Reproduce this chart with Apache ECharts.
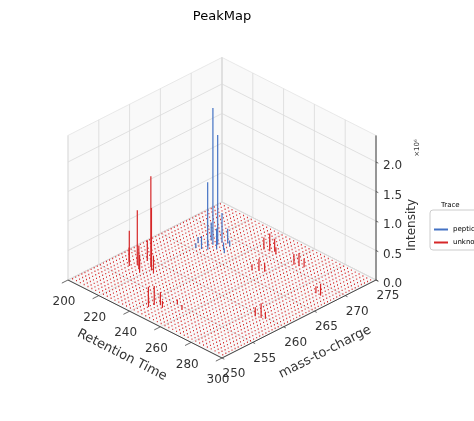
<!DOCTYPE html>
<html><head><meta charset="utf-8">
<script src="https://cdn.jsdelivr.net/npm/echarts@6/dist/echarts.min.js"></script>
<style>html,body{margin:0;padding:0;background:#fff}#c{width:474px;height:421px}</style>
</head><body><div id="c"></div>
<script>
// ---- data ----
const rtTicks = [200, 220, 240, 260, 280, 300];
const mzTicks = [250, 255, 260, 265, 270, 275];
const zTicks = [0, 0.5, 1.0, 1.5, 2.0];           // ×10^6
const rtScans = [201,203.5,206,208.5,211,213.5,216,218.5,221,223.5,226,228.5,231,233.5,236,238.5,241,243.5,246,248.5,251,253.5,256,258.5,261,263.5,266,268.5,271,273.5,276,278.5,281,283.5,286,288.5,291,293.5,296,298.5];
const mzBins = [250.5,251,251.5,252,252.5,253,253.5,254,254.5,255,255.5,256,256.5,257,257.5,258,258.5,259,259.5,260,260.5,261,261.5,262,262.5,263,263.5,264,264.5,265,265.5,266,266.5,267,267.5,268,268.5,269,269.5,270,270.5,271,271.5,272,272.5,273,273.5,274,274.5];
const noiseLevel = 0.02;
// peptide peaks [rt, mz, intensity ×10^6]
const peptidePeaks = [[224.5,267.4,2.32],[226,267.8,1.86],[223.5,266.8,1.08],[226,268.5,0.5],[228.5,267,0.35],[221,268,0.3],[228.5,268.8,0.25],[223.5,265.8,0.22],[226,266.2,0.15],[231,267.5,0.12],[218.5,266.5,0.1],[221,265.5,0.08],[231,268.5,0.1],[233.5,267,0.08]];
// unknown peaks
const unknownPeaks = [[218.6,258.8,1.54],[213,258,0.93],[221,258.3,1.06],[211,257.2,0.6],[216,257.5,0.4],[218.5,257,0.3],[213.5,259.5,0.35],[208.5,257.8,0.25],[223.5,258,0.3],
 [244,253,0.32],[241,252.8,0.28],[246,253.5,0.22],[243.5,252.2,0.18],[248.5,253.2,0.12],[251,255,0.08],[256,254.5,0.08],
 [247,271,0.3],[244,270.8,0.2],[249,271.3,0.22],[251,271,0.12],[266,271,0.22],[263.5,270.8,0.18],[268.5,271.2,0.15],[256,267,0.2],[258.5,267.3,0.15],[253.5,266.5,0.1],
 [292,268,0.2],[289,268,0.12],[287,259.6,0.25],[284,259.4,0.15],[289,259.8,0.12]];

// ---- projection ----
const O = [68, 280], EA = [154, 78], EB = [154, -78], ZSCALE = 59, ZTOP = 2.45;
function P(rt, mz, z) {
  const a = (rt - 200) / 100, b = (mz - 250) / 25;
  return [O[0] + EA[0]*a + EB[0]*b, O[1] + EA[1]*a + EB[1]*b - ZSCALE*z];
}
const noiseData = [];
rtScans.forEach(r => mzBins.forEach(m => noiseData.push([r, m, noiseLevel])));
const gridColor = '#d9d9d9', axisColor = '#444', red = '#d62728', blue = '#4472c4';

function seg(api, p1, p2, color, w) {
  const a = api.coord(p1), b = api.coord(p2);
  return {type:'line', shape:{x1:a[0],y1:a[1],x2:b[0],y2:b[1]}, style:{stroke:color, lineWidth:w}, silent:true};
}
function boxRender(params, api) {
  if (params.dataIndex > 0) return null;
  const ch = [];
  const wall = [P(200,250,0),P(200,275,0),P(200,275,ZTOP),P(200,250,ZTOP)].map(p=>api.coord(p));
  const wall2 = [P(200,275,0),P(300,275,0),P(300,275,ZTOP),P(200,275,ZTOP)].map(p=>api.coord(p));
  const floor = [P(200,250,0),P(300,250,0),P(300,275,0),P(200,275,0)].map(p=>api.coord(p));
  [wall, wall2, floor].forEach(pts => ch.push({type:'polygon', shape:{points:pts}, style:{fill:'rgba(245,245,245,0.6)', stroke:'#e3e3e3', lineWidth:0.8}, silent:true}));
  rtTicks.forEach(t => { ch.push(seg(api,P(t,250,0),P(t,275,0),gridColor,0.8)); ch.push(seg(api,P(t,275,0),P(t,275,ZTOP),gridColor,0.8)); });
  mzTicks.forEach(t => { ch.push(seg(api,P(200,t,0),P(300,t,0),gridColor,0.8)); ch.push(seg(api,P(200,t,0),P(200,t,ZTOP),gridColor,0.8)); });
  zTicks.forEach(t => { ch.push(seg(api,P(200,250,t),P(200,275,t),gridColor,0.8)); ch.push(seg(api,P(200,275,t),P(300,275,t),gridColor,0.8)); });
  ch.push(seg(api,P(200,250,0),P(300,250,0),axisColor,1));
  ch.push(seg(api,P(300,250,0),P(300,275,0),axisColor,1));
  ch.push(seg(api,P(300,275,0),P(300,275,ZTOP),axisColor,1));
  const lab = (p, txt, dx, dy, align) => { const q = api.coord(p); return {type:'text', x:q[0]+dx, y:q[1]+dy, style:{text:txt, fill:'#333', font:'12px "DejaVu Sans"', align:align||'center', verticalAlign:'middle'}, silent:true}; };
  rtTicks.forEach(t => { ch.push(seg(api,P(t,250,0),P(t,249,0),axisColor,0.8)); ch.push(lab(P(t,250,0),String(t),-4,22,'center')); });
  mzTicks.forEach(t => { ch.push(seg(api,P(300,t,0),P(301.5,t,0),axisColor,0.8)); ch.push(lab(P(300,t,0),String(t),12,16,'center')); });
  zTicks.forEach(t => { ch.push(seg(api,P(300,275,t),P(301.5,275,t),axisColor,0.8)); ch.push(lab(P(300,275,t),t.toFixed(1),7,4,'left')); });
  return {type:'group', children:ch};
}
function stemRender(color, w) {
  return function(params, api) {
    return seg(api, P(api.value(0), api.value(1), 0), P(api.value(0), api.value(1), api.value(2)), color, w);
  };
}
const chart = echarts.init(document.getElementById('c'));
chart.setOption({
  animation: false,
  title: {text:'PeakMap', left:217, top:5, textAlign:'center', textStyle:{fontFamily:'DejaVu Sans', fontWeight:'normal', fontSize:13, color:'#000'}},
  grid: {left:0, right:0, top:0, bottom:0},
  xAxis: {type:'value', min:0, max:474, show:false},
  yAxis: {type:'value', min:0, max:421, inverse:true, show:false},
  legend: {left:430, top:210, orient:'vertical', itemWidth:14, itemHeight:2, itemGap:6, icon:'rect',
    backgroundColor:'#fff', borderColor:'#ccc', borderWidth:1, padding:[16,4,4,4], borderRadius:3,
    textStyle:{fontSize:7, fontFamily:'DejaVu Sans', color:'#000'}, data:['peptide','unknown']},
  graphic: [
    {type:'text', left:441, top:202, style:{text:'Trace', font:'7px "DejaVu Sans"', fill:'#000'}},
    {type:'text', x:412, y:225, rotation:Math.PI/2, style:{text:'Intensity', font:'12px "DejaVu Sans"', fill:'#333', align:'center', verticalAlign:'middle'}},
    {type:'text', x:417, y:148, rotation:Math.PI/2, style:{text:'×10⁶', font:'7px "DejaVu Sans"', fill:'#333', align:'center', verticalAlign:'middle'}},
    {type:'text', x:122, y:355, rotation:-0.47, style:{text:'Retention Time', font:'13px "DejaVu Sans"', fill:'#333', align:'center', verticalAlign:'middle'}},
    {type:'text', x:325, y:352, rotation:0.47, style:{text:'mass-to-charge', font:'13px "DejaVu Sans"', fill:'#333', align:'center', verticalAlign:'middle'}}
  ],
  series: [
    {type:'custom', name:'box', data:[[0,0]], renderItem: boxRender, silent:true, z:1},
    {type:'custom', name:'unknown', color:red, data: noiseData, renderItem: function(p, api){ const q=api.coord(P(api.value(0),api.value(1),0)); return {type:'rect', shape:{x:q[0]-0.5,y:q[1]-1.2,width:1,height:1.4}, style:{fill:red}, silent:true}; }, silent:true, z:2},
    {type:'custom', name:'unknown', color:red, data: unknownPeaks, renderItem: stemRender(red,1.2), silent:true, z:3},
    {type:'custom', name:'peptide', color:blue, data: peptidePeaks, renderItem: stemRender(blue,1.2), silent:true, z:4}
  ]
});
</script></body></html>
